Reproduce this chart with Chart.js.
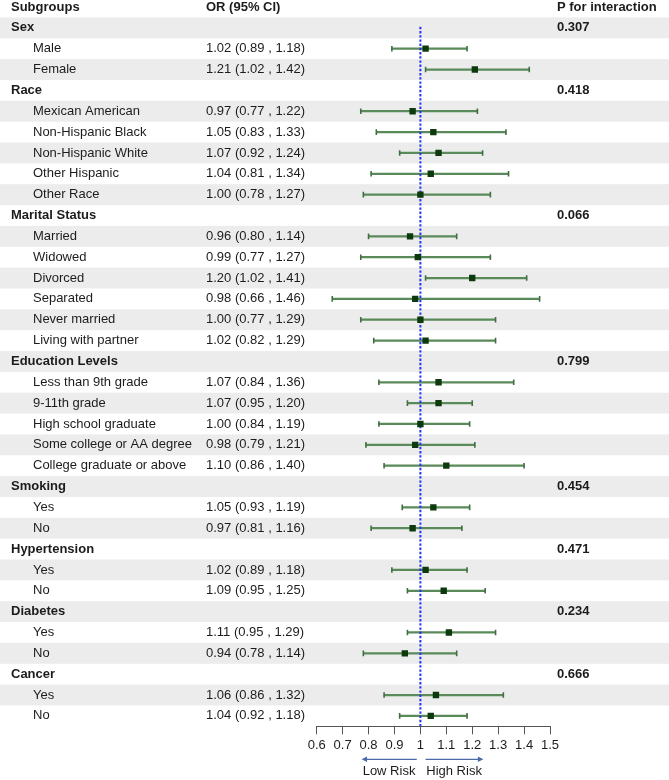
<!DOCTYPE html>
<html>
<head>
<meta charset="utf-8">
<script src="https://cdn.jsdelivr.net/npm/chart.js@4.4.1/dist/chart.umd.min.js"></script>
<style>
  html, body { margin: 0; padding: 0; background: #ffffff; }
  #wrap { width: 669px; height: 780px; position: relative; }
</style>
</head>
<body>
<div id="wrap"><canvas id="c" width="669" height="780"></canvas></div>
<script>
// ---------------- DATA ----------------
const groups = ['Sex', 'Race', 'Marital Status', 'Education Levels', 'Smoking', 'Hypertension', 'Diabetes', 'Cancer'];
const pInteraction = ['0.307', '0.418', '0.066', '0.799', '0.454', '0.471', '0.234', '0.666'];

const subgroups = [
  'Male', 'Female',
  'Mexican American', 'Non-Hispanic Black', 'Non-Hispanic White', 'Other Hispanic', 'Other Race',
  'Married', 'Widowed', 'Divorced', 'Separated', 'Never married', 'Living with partner',
  'Less than 9th grade', '9-11th grade', 'High school graduate', 'Some college or AA degree', 'College graduate or above',
  'Yes', 'No',
  'Yes', 'No',
  'Yes', 'No',
  'Yes', 'No'
];
const subgroupGroup = [0, 0, 1, 1, 1, 1, 1, 2, 2, 2, 2, 2, 2, 3, 3, 3, 3, 3, 4, 4, 5, 5, 6, 6, 7, 7];
const orValues = [1.02, 1.21, 0.97, 1.05, 1.07, 1.04, 1.00, 0.96, 0.99, 1.20, 0.98, 1.00, 1.02, 1.07, 1.07, 1.00, 0.98, 1.10, 1.05, 0.97, 1.02, 1.09, 1.11, 0.94, 1.06, 1.04];
const ciLower  = [0.89, 1.02, 0.77, 0.83, 0.92, 0.81, 0.78, 0.80, 0.77, 1.02, 0.66, 0.77, 0.82, 0.84, 0.95, 0.84, 0.79, 0.86, 0.93, 0.81, 0.89, 0.95, 0.95, 0.78, 0.86, 0.92];
const ciUpper  = [1.18, 1.42, 1.22, 1.33, 1.24, 1.34, 1.27, 1.14, 1.27, 1.41, 1.46, 1.29, 1.29, 1.36, 1.20, 1.19, 1.21, 1.40, 1.19, 1.16, 1.18, 1.25, 1.29, 1.14, 1.32, 1.18];

const xTickValues = [0.6, 0.7, 0.8, 0.9, 1.0, 1.1, 1.2, 1.3, 1.4, 1.5];
const xTickLabels = ['0.6', '0.7', '0.8', '0.9', '1', '1.1', '1.2', '1.3', '1.4', '1.5'];
const nullValue = 1;
const headers = ['Subgroups', 'OR (95% CI)', 'P for interaction'];
const riskLabels = ['Low Risk', 'High Risk'];

// ---------------- ROW TABLE ----------------
const rows = [];
groups.forEach((g, gi) => {
  rows.push({ type: 'group', label: g, p: pInteraction[gi] });
  subgroups.forEach((s, si) => {
    if (subgroupGroup[si] === gi) rows.push({ type: 'sub', label: s, idx: si });
  });
});
rows.forEach((r, i) => { r.y = i + 1; });
const subRowY = [];
rows.forEach(r => { if (r.type === 'sub') subRowY[r.idx] = r.y; });

const ciData = subgroups.map((s, i) => ({ x: [ciLower[i], ciUpper[i]], y: subRowY[i] }));
const pointData = subgroups.map((s, i) => ({ x: orValues[i], y: subRowY[i] }));
const capData = [];
subgroups.forEach((s, i) => {
  capData.push({ x: ciLower[i], y: subRowY[i] });
  capData.push({ x: ciUpper[i], y: subRowY[i] });
});

// ---------------- STYLE ----------------
const FONT = '"Liberation Sans", Arial, Helvetica, sans-serif';
const TEXT = '#1c1c1c';
const STRIPE = '#ececec';
const CI_GREEN = '#5a895a';
const CAP_GREEN = '#3f703f';
const SQ_GREEN = '#0c3a0c';
const Y_MAX = 34.5;

Chart.defaults.font.family = FONT;
Chart.defaults.font.size = 13;
Chart.defaults.color = TEXT;

const stripePlugin = {
  id: 'stripes',
  beforeDraw(chart) {
    const { ctx } = chart;
    const ys = chart.scales.y;
    ctx.save();
    ctx.fillStyle = STRIPE;
    rows.forEach(r => {
      if (r.y % 2 === 1) {
        const top = ys.getPixelForValue(r.y - 0.5);
        const bot = ys.getPixelForValue(r.y + 0.5);
        ctx.fillRect(0, top, chart.width, bot - top);
      }
    });
    ctx.restore();
  }
};

const tablePlugin = {
  id: 'table',
  afterDraw(chart) {
    const { ctx } = chart;
    const ys = chart.scales.y;
    const xs = chart.scales.x;
    ctx.save();
    ctx.fillStyle = TEXT;
    ctx.textBaseline = 'middle';
    ctx.textAlign = 'left';
    const bold = 'bold 13px ' + FONT;
    const reg = '13px ' + FONT;
    const hy = ys.getPixelForValue(0.02);
    ctx.font = bold;
    ctx.fillText(headers[0], 11, hy);
    ctx.fillText(headers[1], 206, hy);
    ctx.fillText(headers[2], 557, hy);
    rows.forEach(r => {
      const y = ys.getPixelForValue(r.y);
      if (r.type === 'group') {
        ctx.font = bold;
        ctx.fillText(r.label, 11, y);
        ctx.fillText(r.p, 557, y);
      } else {
        ctx.font = reg;
        ctx.fillText(r.label, 33, y);
        const i = r.idx;
        ctx.fillText(orValues[i].toFixed(2) + ' (' + ciLower[i].toFixed(2) + ' , ' + ciUpper[i].toFixed(2) + ')', 206, y);
      }
    });

    // risk arrows under the axis
    const base = ys.getPixelForValue(Y_MAX);
    const ay = base + 33;
    const ty = base + 45.5;
    ctx.strokeStyle = '#4b6aa6';
    ctx.fillStyle = '#4b6aa6';
    ctx.lineWidth = 1.2;
    const arrow = (x0, x1) => {
      const dir = Math.sign(x1 - x0);
      ctx.beginPath();
      ctx.moveTo(x0, ay);
      ctx.lineTo(x1 - dir * 4, ay);
      ctx.stroke();
      ctx.beginPath();
      ctx.moveTo(x1, ay);
      ctx.lineTo(x1 - dir * 5.5, ay - 2.8);
      ctx.lineTo(x1 - dir * 5.5, ay + 2.8);
      ctx.closePath();
      ctx.fill();
    };
    arrow(xs.getPixelForValue(0.986), xs.getPixelForValue(0.773));
    arrow(xs.getPixelForValue(1.020), xs.getPixelForValue(1.243));
    ctx.fillStyle = TEXT;
    ctx.font = reg;
    ctx.textAlign = 'center';
    ctx.fillText(riskLabels[0], xs.getPixelForValue(0.879), ty);
    ctx.fillText(riskLabels[1], xs.getPixelForValue(1.130), ty);
    ctx.restore();
  }
};

new Chart(document.getElementById('c'), {
  type: 'scatter',
  data: {
    datasets: [
      {
        type: 'scatter',
        label: 'OR',
        data: pointData,
        pointStyle: 'rect',
        pointRadius: 4.5,
        pointHoverRadius: 4.5,
        backgroundColor: SQ_GREEN,
        borderColor: SQ_GREEN,
        borderWidth: 0,
        order: 0
      },
      {
        type: 'scatter',
        label: 'ref',
        data: [{ x: nullValue, y: 0.95 }, { x: nullValue, y: Y_MAX }],
        showLine: true,
        borderColor: '#2233ff',
        borderWidth: 2,
        borderDash: [2.4, 1.8],
        pointRadius: 0,
        order: 1
      },
      {
        type: 'scatter',
        label: 'caps',
        data: capData,
        pointStyle: 'line',
        rotation: 90,
        pointRadius: 2.8,
        pointHoverRadius: 2.8,
        borderColor: CAP_GREEN,
        borderWidth: 1.6,
        order: 2
      },
      {
        type: 'bar',
        label: 'CI',
        indexAxis: 'y',
        data: ciData,
        barThickness: 1.6,
        backgroundColor: CI_GREEN,
        borderWidth: 0,
        borderSkipped: false,
        order: 3
      }
    ]
  },
  options: {
    responsive: false,
    animation: false,
    events: [],
    layout: { padding: { left: 316.7, right: 119, top: 17.4, bottom: 23.7 } },
    plugins: { legend: { display: false }, tooltip: { enabled: false } },
    scales: {
      x: {
        type: 'linear',
        position: 'bottom',
        offset: false,
        min: 0.6,
        max: 1.5,
        afterBuildTicks(scale) { scale.ticks = xTickValues.map(v => ({ value: v })); },
        afterFit(scale) { scale.height = 30; },
        ticks: {
          autoSkip: false,
          maxRotation: 0,
          padding: 3,
          color: TEXT,
          font: { size: 13, family: FONT },
          callback(value) {
            const k = xTickValues.findIndex(v => Math.abs(v - value) < 1e-9);
            return k >= 0 ? xTickLabels[k] : '';
          }
        },
        grid: { display: true, offset: false, drawOnChartArea: false, drawTicks: true, tickLength: 8, color: '#555555', lineWidth: 1 },
        border: { display: true, color: '#555555', width: 1 }
      },
      y: {
        type: 'linear',
        display: false,
        offset: false,
        grid: { offset: false },
        reverse: true,
        min: 0.5,
        max: Y_MAX
      }
    }
  },
  plugins: [stripePlugin, tablePlugin]
});
</script>
</body>
</html>
